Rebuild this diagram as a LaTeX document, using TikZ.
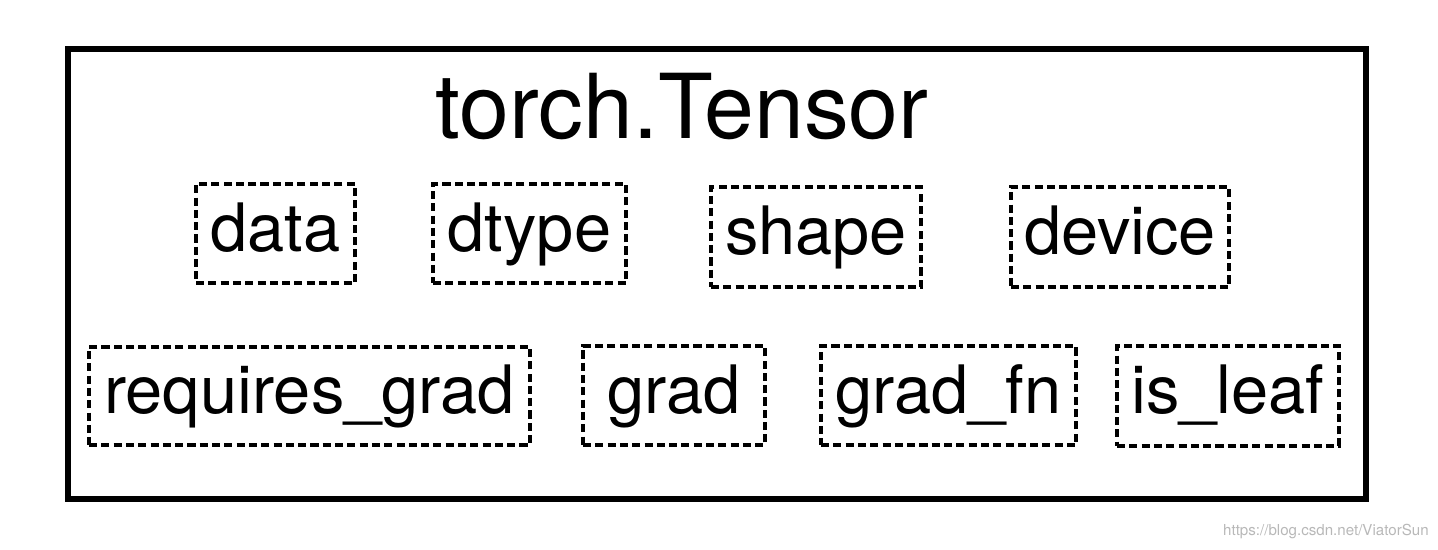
\documentclass[tikz,border=0pt]{standalone}
\usepackage{fontspec}
\setmainfont{TeX Gyre Heros}
\usepackage{tikz}
\usetikzlibrary{positioning}
\tikzstyle{tensorbox}=[draw,line width=3pt,inner sep=0pt]
\tikzstyle{field}=[draw,line width=2pt,dash pattern=on 4.6pt off 2.4pt,inner sep=0pt,
  font=\fontsize{38}{38}\selectfont,text height=29pt,text depth=9pt]
\tikzstyle{title}=[font=\fontsize{51}{51}\selectfont,inner sep=0pt]

\begin{document}
\begin{tikzpicture}[x=0.02cm,y=-0.02cm]
  \useasboundingbox (0,0) rectangle (1438,550);
  \node(tensor)[tensorbox,minimum width=25.96cm,minimum height=9cm] at (717,274){};
  \node(name)[title,anchor=base] at (682,139){torch.Tensor};
  % first row
  \node(data)[field,minimum width=3.18cm,minimum height=1.98cm] at (275.5,233.5){data};
  \node(dtype)[field,minimum width=3.86cm,minimum height=1.98cm] at (529.5,233.5){dtype};
  \node(shape)[field,minimum width=4.2cm,minimum height=2cm] at (816,237){shape};
  \node(device)[field,minimum width=4.36cm,minimum height=2cm] at (1120,237){device};
  % second row
  \node(reqgrad)[field,minimum width=8.82cm,minimum height=1.96cm] at (309.5,396){requires\_grad};
  \node(grad)[field,minimum width=3.64cm,minimum height=1.98cm] at (674,395.5){grad};
  \node(gradfn)[field,minimum width=5.1cm,minimum height=1.98cm] at (948.5,395.5){grad\_fn};
  \node(isleaf)[field,minimum width=4.44cm,minimum height=2cm] at (1228,396){is\_leaf};
  \node(mark)[anchor=base east,inner sep=0pt,text=black!28,font=\fontsize{8.6}{9}\selectfont] at (1429,536){https://blog.csdn.net/ViatorSun};
\end{tikzpicture}
\end{document}
